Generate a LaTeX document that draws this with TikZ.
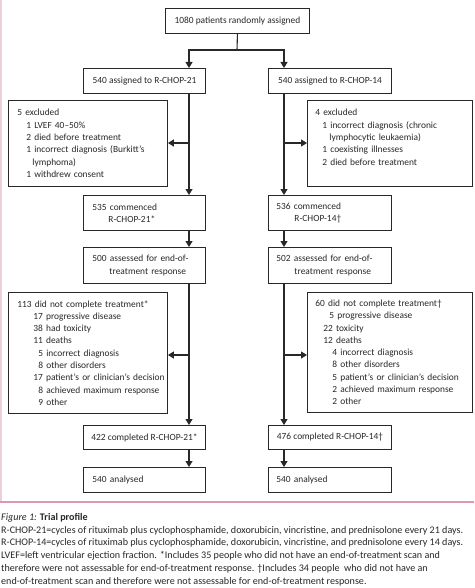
\documentclass[tikz,border=0pt]{standalone}
\usepackage{fontspec}
\setmainfont{Carlito}
\usetikzlibrary{arrows.meta}
\definecolor{pinkline}{RGB}{222,150,180}
\definecolor{pinkpale}{RGB}{240,205,220}
\definecolor{ink}{RGB}{40,40,40}
\tikzset{
  box/.style={draw=ink, line width=0.9pt, anchor=north west, inner sep=0pt,
    font=\fontsize{9.4}{12.3}\selectfont, text=ink},
  lbox/.style={box, align=left, inner xsep=9pt, text width=#1},
  lboxr/.style={box, align=left, inner xsep=8pt, text width=#1},
  flow/.style={draw=ink, line width=1.1pt},
  arr/.style={flow, -{Triangle[width=7pt,length=6pt]}},
}
\begin{document}
\begin{tikzpicture}[x=1pt,y=-1pt]
\useasboundingbox (0,0) rectangle (474,588);
\fill[white] (0,0) rectangle (474,588);
\draw[pinkpale, line width=2pt] (1,0) -- (1,502);
\draw[pinkline, line width=1.2pt] (0,502) -- (474,502);

% boxes
\node[box, minimum width=144pt, minimum height=25pt] (top) at (165,8) {1080 patients randomly assigned};
\node[box, minimum width=122pt, minimum height=25pt] (a21) at (83,68) {540 assigned to R-CHOP-21};
\node[box, minimum width=123pt, minimum height=25pt] (a14) at (268,68) {540 assigned to R-CHOP-14};

\node[lbox=141pt, minimum height=86pt] (ex21) at (8,100) {5 excluded\\
\hspace*{9pt}1 LVEF 40--50\%\\
\hspace*{9pt}2 died before treatment\\
\hspace*{9pt}\mbox{1 incorrect diagnosis (Burkitt’s}\\
\hspace*{15pt}lymphoma)\\
\hspace*{9pt}1 withdrew consent};
\node[lboxr=149pt, minimum height=86pt] (ex14) at (307,100) {4 excluded\\
\hspace*{7pt}\mbox{1 incorrect diagnosis (chronic}\\
\hspace*{14pt}\mbox{lymphocytic leukaemia)}\\
\hspace*{7pt}1 coexisting illnesses\\
\hspace*{7pt}2 died before treatment\\
\mbox{}};

\node[lbox=104pt, minimum height=35pt] (c21) at (83,195) {535 commenced\\ \hspace*{16pt}R-CHOP-21*};
\node[lboxr=107pt, minimum height=35pt] (c14) at (268,195) {536 commenced\\ \hspace*{18pt}R-CHOP-14†};
\node[lbox=104pt, minimum height=36pt] (s21) at (83,247) {\mbox{500 assessed for end-of-}\\ \hspace*{17pt}treatment response};
\node[lboxr=107pt, minimum height=36pt] (s14) at (268,247) {\mbox{502 assessed for end-of-}\\ \hspace*{18pt}treatment response};

\node[lbox=141pt, minimum height=121pt] (nc21) at (8,292) {\mbox{113 did not complete treatment*}\\
\hspace*{16pt}17 progressive disease\\
\hspace*{16pt}38 had toxicity\\
\hspace*{16pt}11 deaths\\
\hspace*{21pt}5 incorrect diagnosis\\
\hspace*{21pt}8 other disorders\\
\hspace*{16pt}\mbox{17 patient’s or clinician’s decision}\\
\hspace*{21pt}\mbox{8 achieved maximum response}\\
\hspace*{21pt}9 other};
\node[lboxr=149pt, minimum height=120pt] (nc14) at (307,292) {\mbox{60 did not complete treatment†}\\
\hspace*{14pt}5 progressive disease\\
\hspace*{8pt}22 toxicity\\
\hspace*{8pt}12 deaths\\
\hspace*{17pt}4 incorrect diagnosis\\
\hspace*{17pt}8 other disorders\\
\hspace*{17pt}\mbox{5 patient’s or clinician’s decision}\\
\hspace*{17pt}\mbox{2 achieved maximum response}\\
\hspace*{17pt}2 other};

\node[box, minimum width=122pt, minimum height=24pt] (cp21) at (83,425) {422 completed R-CHOP-21*};
\node[box, minimum width=123pt, minimum height=24pt] (cp14) at (268,425) {476 completed R-CHOP-14†};
\node[lbox=104pt, minimum height=25pt] (an21) at (83,467) {540 analysed};
\node[lboxr=107pt, minimum height=25pt] (an14) at (268,467) {540 analysed};

% connectors
\coordinate (split) at (237,50);
\coordinate (sl) at (189,50);
\coordinate (sr) at (284,50);
\coordinate (bl1) at (189,143);
\coordinate (br1) at (284,143);
\coordinate (bl2) at (189,355);
\coordinate (br2) at (284,355);
\draw[flow] (top.south) -- (split);
\draw[arr] (split) -- (sl) -- (a21.north -| sl);
\draw[arr] (split) -- (sr) -- (a14.north -| sr);
\draw[arr] (a21.south -| sl) -- (c21.north -| sl);
\draw[arr] (a14.south -| sr) -- (c14.north -| sr);
\draw[arr] (bl1) -- (ex21.east |- bl1);
\draw[arr] (br1) -- (ex14.west |- br1);
\draw[arr] (c21.south -| sl) -- (s21.north -| sl);
\draw[arr] (c14.south -| sr) -- (s14.north -| sr);
\draw[arr] (s21.south -| sl) -- (cp21.north -| sl);
\draw[arr] (s14.south -| sr) -- (cp14.north -| sr);
\draw[arr] (bl2) -- (nc21.east |- bl2);
\draw[arr] (br2) -- (nc14.west |- br2);
\draw[arr] (cp21.south -| sl) -- (an21.north -| sl);
\draw[arr] (cp14.south -| sr) -- (an14.north -| sr);

% caption
\node[anchor=north west, align=left, inner sep=0pt, font=\fontsize{10.1}{12.8}\selectfont, text=ink] (cap) at (1,513) {\textit{Figure 1:} \textbf{Trial profile}\\
R-CHOP-21=cycles of rituximab plus cyclophosphamide, doxorubicin, vincristine, and prednisolone every 21 days.\\
R-CHOP-14=cycles of rituximab plus cyclophosphamide, doxorubicin, vincristine, and prednisolone every 14 days.\\
LVEF=left ventricular ejection fraction. *Includes 35 people who did not have an end-of-treatment scan and\\
therefore were not assessable for end-of-treatment response. †Includes 34 people\ \ who did not have an\\
end-of-treatment scan and therefore were not assessable for end-of-treatment response.};
\end{tikzpicture}
\end{document}
